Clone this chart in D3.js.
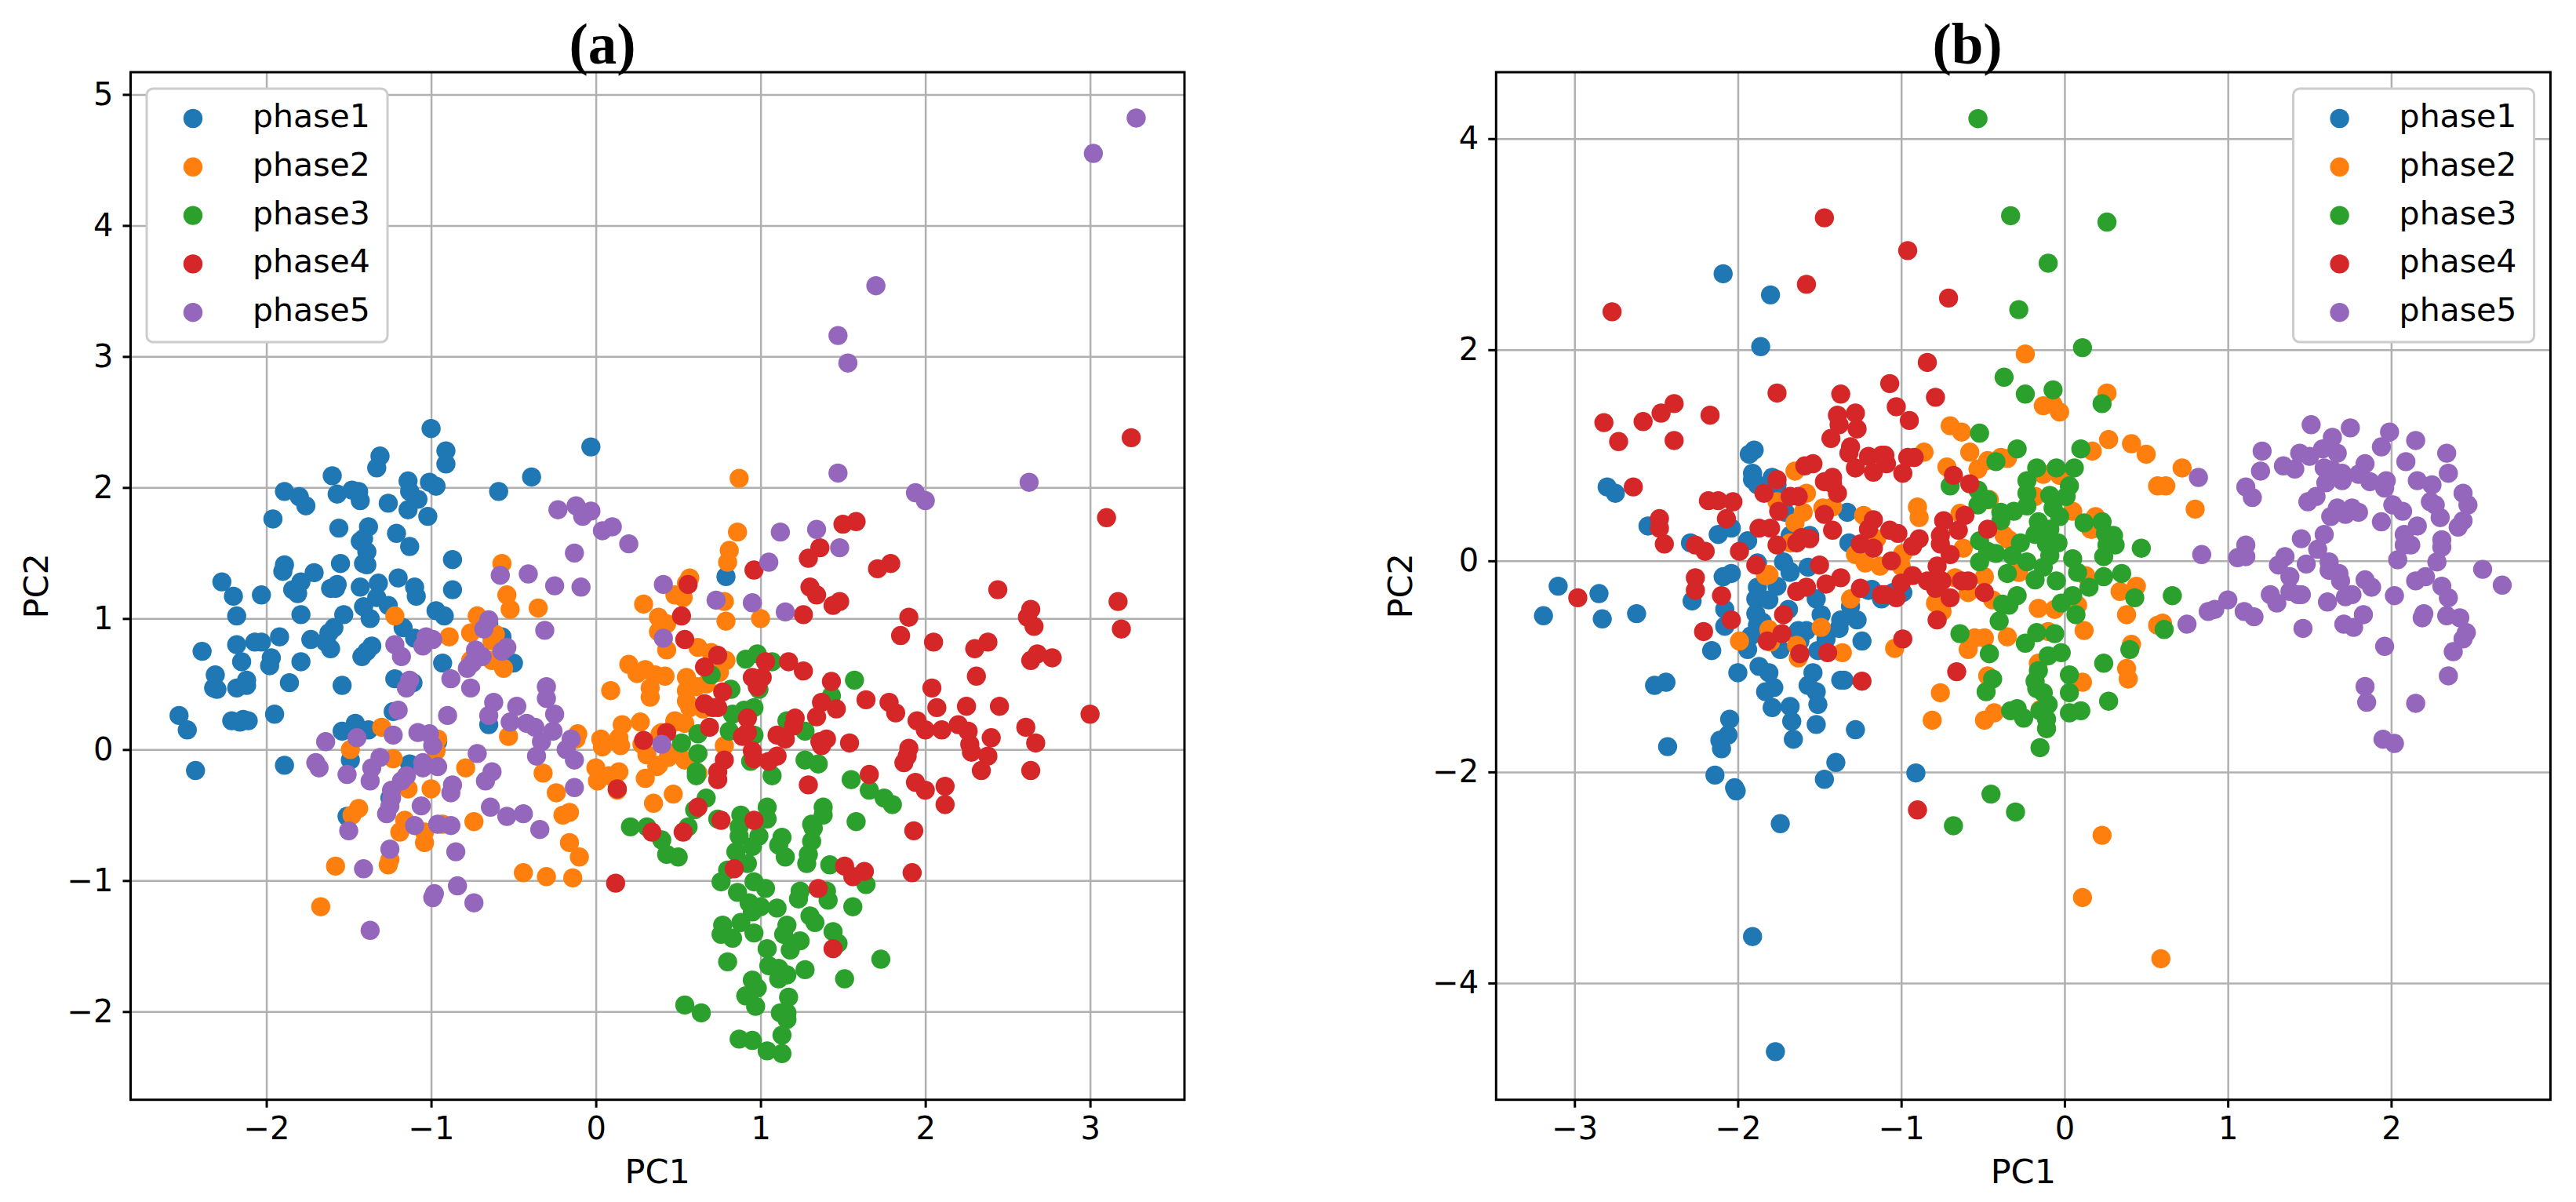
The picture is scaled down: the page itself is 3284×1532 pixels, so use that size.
<!DOCTYPE html>
<html>
<head>
<meta charset="utf-8">
<title>PCA phases</title>
<script src="https://cdnjs.cloudflare.com/ajax/libs/d3/7.8.5/d3.min.js"></script>
<style>
  html, body { margin: 0; padding: 0; background: #fff; }
  svg { display: block; }
  text { font-family: "DejaVu Sans", sans-serif; fill: #000; }
  .panel-title { font-family: "Liberation Serif", serif; font-weight: bold; }
</style>
</head>
<body>
<div id="chart"></div>
<script>
// Values, [PC1, PC2]
var phaseNames = ["phase1", "phase2", "phase3", "phase4", "phase5"];
var phaseColors = ["#1f77b4", "#ff7f0e", "#2ca02c", "#d62728", "#9467bd"];

var aTicksX = [-2, -1, 0, 1, 2, 3];
var aTicksY = [-2, -1, 0, 1, 2, 3, 4, 5];
var bTicksX = [-3, -2, -1, 0, 1, 2];
var bTicksY = [-4, -2, 0, 2, 4];

var aPhase1 = [[-1.0,2.45],[-0.91,2.28],[-0.91,2.18],[-1.31,2.24],[-1.33,2.15],[-1.6,2.09],[-1.89,1.97],[-1.8,1.93],[-1.76,1.86],[-1.96,1.76],[-1.57,1.95],[-1.48,1.98],[-1.44,1.97],[-1.43,1.9],[-1.14,2.05],[-1.13,1.97],[-1.08,1.91],[-1.14,1.83],[-1.01,2.04],[-0.97,2.01],[-1.02,1.78],[-1.26,1.88],[-0.59,1.97],[-0.39,2.08],[-0.03,2.31],[-1.56,1.69],[-1.38,1.7],[-1.21,1.65],
  [-1.41,1.61],[-1.43,1.59],[-1.39,1.51],[-1.41,1.42],[-1.39,1.41],[-1.13,1.55],[-0.87,1.45],[-0.87,1.22],[-1.55,1.42],[-1.71,1.35],[-1.89,1.41],[-1.9,1.36],[-1.79,1.28],[-1.84,1.22],[-1.81,1.19],[-2.27,1.28],[-2.2,1.17],[-2.03,1.18],[-2.18,1.02],[-1.79,1.03],[-1.61,1.23],[-1.58,1.23],[-1.57,1.26],[-1.43,1.24],[-1.32,1.27],[-1.33,1.16],[-1.2,1.31],[-1.1,1.24],[-1.09,1.17],[-1.26,1.1],[-1.41,1.09],[-1.53,1.03],[-1.37,1.0],[-0.97,1.06],[-0.92,1.02],[-1.17,0.93],[-1.1,0.85],[-1.59,0.93],[-1.62,0.89],[-1.73,0.84],[-1.64,0.82],[-1.61,0.77],[-1.92,0.86],[-2.07,0.82],[-2.03,0.82],[-2.18,0.8],[-2.39,0.75],[-2.15,0.67],[-1.97,0.7],[-1.98,0.64],[-1.79,0.67],[-1.36,0.79],[-1.39,0.75],[-1.42,0.71],[-0.93,0.66],[-0.65,0.96],[-0.57,0.86],[-0.5,0.66],[-1.22,0.54],[-1.11,0.51],[-1.86,0.51],[-1.54,0.49],[-2.31,0.57],[-2.32,0.47],[-2.3,0.46],[-2.18,0.47],[-2.12,0.53],[-2.12,0.49],[-2.53,0.26],[-2.48,0.15],[-2.21,0.22],[-2.16,0.21],[-2.14,0.23],[-2.11,0.22],[-1.95,0.27],[-1.23,0.29],[-0.65,0.19],[-1.54,0.14],[-1.46,0.2],[-1.38,0.15],[-0.96,0.06],[-2.43,-0.16],[-1.89,-0.12],[-1.49,-0.08],[-1.13,-0.11],[-1.25,-0.37],[-1.51,-0.51],[0.79,1.32]];

var aPhase2 = [[-0.57,1.42],[-0.54,1.18],[-0.52,1.07],[-0.35,1.08],[-1.22,1.02],[-0.72,1.02],[-0.89,0.86],[-0.76,0.89],[-0.61,0.88],[-0.63,0.83],[-0.76,0.68],[-0.63,0.68],[-0.56,0.62],[0.29,1.11],[0.38,1.01],[0.38,0.9],[0.48,1.18],[0.43,0.76],[0.2,0.65],[0.25,0.58],[0.3,0.61],[0.36,0.57],[0.42,0.56],[0.09,0.45],[0.33,0.47],[0.33,0.4],[0.16,0.19],[0.27,0.21],[0.48,0.21],[-0.11,0.12],[-0.12,0.08],[-0.53,0.1],[0.03,0.08],[0.04,0.02],[0.14,0.09],[0.15,0.03],[0.28,0.04],[0.31,-0.04],[0.39,0.12],[0.46,-0.03],[0.37,-0.13],[0.0,-0.14],[0.01,-0.24],[0.08,-0.2],[0.14,-0.17],[0.13,-0.31],[0.3,-0.22],[0.47,-0.34],[0.35,-0.41],[-1.3,0.17],[-0.96,0.08],[-0.97,-0.01],[-1.49,0.0],[-1.23,-0.07],[-0.79,-0.14],[-0.32,-0.18],[-0.24,-0.33],[-1.14,-0.3],[-1.0,-0.3],[-1.44,-0.45],[-1.48,-0.5],[-1.16,-0.54],[-0.93,-0.57],[-0.74,-0.55],[-0.2,-0.5],[-0.16,-0.48],[-1.19,-0.63],[-1.04,-0.63],[-1.04,-0.71],[-0.16,-0.71],[-0.1,-0.82],[-1.25,-0.84],[-1.26,-0.88],[-1.58,-0.89],[-0.44,-0.94],[-0.3,-0.97],[-0.14,-0.98],[-1.67,-1.2],
  [0.87,2.07],[0.86,1.66],[0.81,1.52],[0.8,1.43],[0.57,1.31],[0.55,1.27],[0.53,1.16],[0.78,1.13],[0.43,0.96],[0.79,0.98],[1.0,1.0],[0.62,0.78],[0.7,0.74],[0.79,0.68],[0.75,0.59],[0.67,0.5],[0.55,0.55],[0.55,0.45],[0.61,0.48],[0.55,0.37],[0.57,0.32],[0.65,0.31],[0.48,0.22],[0.54,0.2],[0.4,0.13],[0.78,0.03],[0.54,-0.08],[0.44,-0.06],[0.38,-0.12],[0.62,-0.18]];

var aPhase3 = [[1.57,0.53],[1.43,0.41],[0.98,0.73],[0.91,0.69],[1.07,0.67],[0.7,0.57],[0.82,0.46],[0.99,0.46],[0.83,0.27],[0.9,0.3],[0.96,0.32],[1.16,0.22],[1.27,0.14],[0.81,0.14],[0.96,0.11],[0.62,0.12],[0.52,0.05],[0.62,-0.03],[0.94,-0.09],[1.27,-0.08],[1.35,-0.11],[0.61,-0.17],[0.61,-0.2],[1.07,-0.2],[1.55,-0.23],[1.66,-0.31],[1.75,-0.37],[1.8,-0.42],[1.58,-0.55],[0.67,-0.37],[0.6,-0.46],[0.56,-0.59],[0.74,-0.53],[0.88,-0.5],[1.04,-0.44],[1.04,-0.53],[1.38,-0.44],[1.38,-0.5],[1.31,-0.57],[1.32,-0.6],[1.31,-0.7],[1.13,-0.67],[1.11,-0.73],[1.15,-0.82],[1.29,-0.8],[1.28,-0.87],[0.87,-0.59],[0.87,-0.66],[0.99,-0.66],[0.95,-0.74],[0.85,-0.78],[0.92,-0.87],[0.8,-0.92],[1.42,-0.88],[0.76,-1.01],[0.96,-1.01],[1.03,-1.06],[0.86,-1.09],[1.24,-1.08],[1.23,-1.14],[1.4,-1.08],[1.41,-1.15],[1.64,-1.03],[1.56,-1.2],[0.93,-1.17],[1.0,-1.2],[1.1,-1.21],[0.95,-1.24],[1.3,-1.27],[1.33,-1.32],[0.77,-1.34],[0.76,-1.41],[0.88,-1.32],[0.83,-1.44],[0.96,-1.4],[1.16,-1.34],[1.14,-1.41],[1.24,-1.46],[1.44,-1.39],[1.47,-1.48],[1.04,-1.52],[1.18,-1.53],[1.73,-1.6],[0.8,-1.62],[1.05,-1.65],[1.11,-1.67],[1.16,-1.72],[1.11,-1.75],[1.27,-1.68],[1.51,-1.75],[0.95,-1.76],[0.98,-1.82],[0.91,-1.88],[1.17,-1.89],[0.54,-1.95],[0.64,-2.01],[0.97,-1.96],[1.12,-2.01],[1.16,-2.01],[1.16,-2.06],[0.87,-2.21],[0.95,-2.22],[1.13,-2.18],[1.04,-2.3],[1.13,-2.32],[0.21,-0.59],[0.31,-0.59],[0.4,-0.69],[0.43,-0.8],[0.5,-0.82]];

var aPhase4 = [[3.25,2.38],[3.1,1.77],[1.58,1.74],[1.5,1.72],[1.36,1.54],[1.29,1.46],[0.96,1.37],[1.79,1.42],[1.71,1.38],[2.44,1.22],[3.17,1.13],[2.64,1.07],[0.56,1.26],[1.3,1.24],[1.34,1.18],[1.48,1.13],[1.44,1.1],
  [3.19,0.92],[2.62,1.01],[2.66,0.94],[1.9,1.01],[1.85,0.87],[2.05,0.82],[2.38,0.82],[2.3,0.77],[2.68,0.73],[2.64,0.68],[2.77,0.7],[2.31,0.56],[2.04,0.47],[3.0,0.27],[2.07,0.32],[2.25,0.33],[2.45,0.33],[2.61,0.17],[2.67,0.05],[2.4,0.09],[2.2,0.19],[2.26,0.14],[2.27,0.04],[2.28,-0.02],[2.38,-0.05],[2.34,-0.16],[2.64,-0.16],[1.95,0.22],[2.0,0.15],[2.1,0.15],[1.9,0.01],[1.89,-0.05],[1.87,-0.1],[1.78,0.36],[1.82,0.28],[1.64,0.38],[1.43,0.52],[1.37,0.36],[1.34,0.25],[1.46,0.31],[1.4,0.08],[1.36,0.06],[1.37,0.03],[1.54,0.05],[1.66,-0.19],[1.29,-0.27],[1.94,-0.25],[2.0,-0.31],[2.12,-0.28],[2.12,-0.42],[1.93,-0.62],[1.92,-0.94],[1.51,-0.89],[1.56,-0.97],[1.63,-0.93],[1.35,-1.06],[1.44,-1.52],[1.26,1.03],[1.17,0.67],[1.26,0.6],[1.03,0.67],[0.95,0.55],[1.01,0.55],[0.98,0.48],[1.21,0.24],[1.2,0.18],[1.1,0.11],[1.15,0.08],[0.92,0.24],[0.92,0.13],[0.89,0.1],[0.95,-0.01],[0.96,-0.07],[1.05,-0.09],[1.1,-0.05],[0.78,-0.08],[0.74,-0.17],[0.74,-0.23],[0.69,0.17],[0.74,0.72],[0.66,0.63],[0.77,0.44],[0.66,0.35],[0.71,0.32],[0.74,0.32],[0.52,1.02],[0.54,0.84],[0.43,0.13],[0.29,0.07],[0.62,-0.44],[0.76,-0.54],[0.96,-0.54],[0.53,-0.63],[0.34,-0.63],[0.84,-0.91],[0.13,-0.3],[0.12,-1.02]];

var aPhase5 = [[-0.23,1.83],[-0.12,1.86],[-0.08,1.78],[-0.03,1.82],[0.04,1.67],[0.1,1.7],[0.2,1.57],[-0.13,1.5],[-0.58,1.33],[-0.41,1.34],[-0.25,1.25],[-0.09,1.24],[0.41,1.26],[0.41,0.85],[-0.31,0.91],[-0.65,0.99],[-0.68,0.92],[-1.03,0.86],[-0.99,0.84],[-1.05,0.79],[-1.22,0.8],[-1.18,0.71],[-0.73,0.76],[-0.69,0.71],[-0.54,0.78],[-0.57,0.75],[-0.75,0.66],[-0.78,0.62],[-0.88,0.54],[-0.76,0.47],[-1.13,0.53],[-1.15,0.47],[-0.3,0.48],[-0.3,0.39],[-0.62,0.36],[-0.48,0.33],[-0.65,0.26],[-0.25,0.27],[-0.52,0.21],[-0.42,0.2],[-0.37,0.17],[-0.26,0.14],[-0.33,0.06],[-0.15,0.08],[-0.18,0.0],[-0.36,-0.05],[-0.13,-0.08],[-1.2,0.3],[-0.9,0.26],[-1.45,0.09],[-1.64,0.06],[-1.23,0.11],[-1.08,0.13],[-1.01,0.12],[-0.99,0.03],[-0.72,-0.03],[0.4,0.04],[-1.7,-0.1],[-1.68,-0.14],[-1.31,-0.06],[-1.36,-0.14],[-1.51,-0.19],[-1.37,-0.24],[-1.05,-0.1],[-1.05,-0.14],[-0.96,-0.13],[-1.15,-0.2],[-1.18,-0.24],[-0.63,-0.17],[-0.67,-0.24],[-0.87,-0.27],[-0.88,-0.33],[-0.13,-0.29],[-1.24,-0.31],[-1.24,-0.37],[-1.25,-0.43],[-1.27,-0.49],[-1.06,-0.43],[-0.64,-0.44],[-0.54,-0.51],[-0.44,-0.49],[-0.96,-0.57],[-0.88,-0.58],[-1.1,-0.58],[-1.5,-0.62],[-0.34,-0.61],[-0.85,-0.78],[-1.25,-0.76],[-1.41,-0.91],[-0.84,-1.04],[-0.98,-1.1],[-0.99,-1.13],[-0.74,-1.17],[-1.37,-1.38],
  [3.28,4.82],[3.02,4.55],[1.7,3.54],[1.47,3.16],[1.53,2.95],[1.47,2.11],[1.94,1.96],[2.0,1.9],[2.63,2.04],[1.34,1.68],[1.12,1.66],[1.48,1.54],[1.05,1.43],[0.73,1.14],[0.95,1.12],[1.15,1.05]];

var bPhase1 = [[-2.09,2.72],[-1.8,2.52],[-1.86,2.03],[-1.9,1.05],[-1.93,1.01],[-1.91,0.83],[-1.91,0.77],[-1.88,0.72],[-1.79,0.79],[-1.76,0.72],[-2.8,0.7],[-2.75,0.64],[-2.55,0.33],[-2.29,0.17],[-2.12,0.25],[-2.04,0.31],[-1.94,0.19],[-1.88,-0.02],[-1.72,-0.01],[-1.33,0.46],[-1.32,0.17],[-1.71,0.46],[-1.68,0.24],[-1.56,0.24],[-1.57,-0.06],[-2.09,-0.15],[-2.04,-0.12],[-3.1,-0.24],[-2.85,-0.31],[-3.19,-0.52],[-2.83,-0.55],[-2.62,-0.5],[-1.68,-0.1],
  [-2.28,-0.38],[-2.08,-0.46],[-2.08,-0.62],[-1.88,-0.25],[-1.89,-0.36],[-1.89,-0.5],[-1.88,-0.61],[-1.92,-0.71],[-1.81,-0.37],[-1.76,-0.24],[-1.68,-0.11],[-1.69,-0.46],[-1.85,-0.58],[-2.16,-0.85],[-1.94,-0.84],[-2.0,-1.06],[-1.74,-0.84],[-1.63,-0.66],[-1.58,-0.66],[-1.62,-0.76],[-1.52,-0.36],[-1.49,-0.51],[-1.51,-0.85],[-1.46,-0.74],[-1.38,-0.64],[-1.37,-0.56],[-1.27,-0.56],[-1.31,-0.43],[-1.24,-0.76],[-1.2,-0.28],[-1.18,-0.27],[-1.12,-0.36],[-1.87,-1.0],[-1.81,-1.06],[-1.78,-1.2],[-1.83,-1.24],[-1.79,-1.39],[-1.68,-1.38],[-1.67,-1.52],[-1.66,-1.69],[-1.52,-1.55],[-1.54,-1.06],[-1.57,-1.18],[-1.52,-1.24],[-1.51,-1.36],[-1.37,-1.13],[-1.35,-1.13],[-1.28,-1.6],[-1.4,-1.91],[-1.47,-2.07],[-2.51,-1.18],[-2.44,-1.15],[-2.05,-1.5],[-2.06,-1.65],[-2.11,-1.7],[-2.1,-1.78],[-2.43,-1.76],[-2.14,-2.03],[-2.02,-2.15],[-2.01,-2.18],[-1.74,-2.49],[-1.91,-3.56],[-0.91,-2.01],[-1.77,-4.65],[-0.99,-0.3],[-1.05,-0.3]];

var bPhase2 = [[-0.24,1.96],[-0.13,1.47],[-0.07,1.48],[-0.03,1.41],[0.26,1.59],[-0.7,1.28],[-0.63,1.22],[-0.86,1.03],[-0.58,1.03],[-0.72,0.89],[-0.53,0.87],[-0.47,0.95],[-0.39,0.98],[-0.35,0.97],[0.17,1.04],[0.27,1.15],[0.41,1.11],[0.5,1.01],[-0.13,0.82],[-0.03,0.81],[-0.18,0.61],[-0.46,0.58],[-0.9,0.51],[-0.89,0.41],[-0.64,0.45],[0.05,0.47],[0.19,0.42],[0.17,0.3],[-0.37,0.24],[-0.34,0.2],[-0.62,0.12],[0.57,0.71],[-1.28,0.06],[-1.22,-0.02],[-1.13,-0.05],[-0.99,0.07],[-1.0,-0.05],[-1.15,0.21],[-1.23,0.43],[-1.65,0.85],[-1.58,0.64],[-1.76,0.56],[-1.6,0.46],[-1.65,0.36],[-1.48,0.5],[-1.42,0.51],[-1.68,0.17],[-1.81,-0.13],[-1.31,-0.36],[-0.67,-0.16],[-0.49,-0.15],[-0.59,-0.3],[-0.44,-0.37],[-0.28,-0.11],[0.13,-0.14],[0.34,-0.29],[0.44,-0.24],[0.38,-0.51],[0.57,-0.61],[-0.79,-0.4],[-0.75,-0.48],
  [-0.16,-0.45],[-0.06,-0.46],[0.08,-0.42],[0.12,-0.66],[-0.35,-0.72],[-0.55,-0.73],[-0.49,-0.73],[-0.59,-0.84],[-0.1,-0.67],[0.41,-0.79],[0.38,-1.02],[0.39,-1.12],[0.11,-1.15],[-0.16,-0.97],[-0.47,-1.09],[-0.76,-1.25],[-0.81,-1.51],[-0.49,-1.51],[-0.43,-1.44],[-0.15,-1.41],[-1.04,-0.83],[0.23,-2.6],[0.11,-3.19],[0.59,-3.77],[-1.83,-0.14],[-1.99,-0.76],[-1.81,-0.65],[-1.8,-0.77],[-1.64,-0.8],[-1.63,-0.92],[-1.49,-0.63],[-1.36,-0.87],[0.72,0.88],[0.62,0.71],[0.8,0.49],[0.6,-0.59],[0.16,0.3]];

var bPhase3 = [[-0.53,4.19],[-0.33,3.27],[0.26,3.21],[-0.1,2.82],[-0.28,2.38],[0.11,2.02],[-0.37,1.74],[-0.24,1.58],[-0.07,1.62],[0.23,1.49],[-0.52,1.21],[-0.29,1.06],[-0.42,0.94],[0.1,1.06],[-0.17,0.88],[-0.05,0.88],[0.06,0.88],[-0.23,0.76],[0.03,0.71],[-0.7,0.71],[-0.23,0.64],[-0.09,0.62],[0.01,0.61],[-0.53,0.67],[-0.47,0.58],[-0.53,0.53],[-0.39,0.46],[-0.31,0.47],[-0.23,0.52],[-0.39,0.38],[-0.07,0.5],[-0.03,0.42],[0.12,0.36],[0.23,0.37],[-0.16,0.37],[-0.18,0.25],[-0.09,0.3],[-0.27,0.17],[-0.04,0.17],[-0.11,0.16],[-0.52,0.19],[-0.47,0.09],[-0.42,0.07],[-0.32,0.05],[0.25,0.26],[0.3,0.24],[0.31,0.15],[0.26,0.15],[0.24,0.04],[0.47,0.12],[-0.52,-0.01],[-0.23,-0.01],[0.05,0.02],[-0.09,0.05],[-0.35,-0.12],[-0.18,-0.18],[-0.05,-0.19],[0.08,-0.11],[-0.13,-0.06],[0.24,-0.15],[0.35,-0.12],[0.15,-0.25],[0.43,-0.35],[0.05,-0.33],[-0.02,-0.4],[-0.29,-0.33],[-0.34,-0.42],[-0.38,-0.41],[-0.4,-0.57],[0.07,-0.51],
  [-0.64,-0.69],[-0.46,-0.88],[-0.44,-1.12],[-0.48,-1.24],[-0.17,-0.68],[-0.24,-0.78],[-0.06,-0.69],[-0.02,-0.87],[-0.1,-0.9],[0.24,-0.97],[0.4,-0.84],[-0.16,-1.04],[-0.18,-1.14],[-0.17,-1.21],[-0.13,-1.25],[-0.1,-1.36],[-0.15,-1.42],[-0.11,-1.5],[-0.11,-1.59],[-0.15,-1.77],[0.03,-1.08],[0.03,-1.25],[0.03,-1.44],[0.1,-1.42],[0.27,-1.33],[-0.33,-1.42],[-0.29,-1.4],[-0.25,-1.49],[-0.45,-2.21],[-0.3,-2.38],[-0.68,-2.51],[0.66,-0.33],[0.61,-0.65]];

var bPhase4 = [[-2.77,2.36],[-1.58,2.62],[-1.47,3.25],[-1.76,1.59],[-1.37,1.58],[-2.82,1.31],[-2.73,1.13],[-2.58,1.32],[-2.47,1.4],[-2.39,1.49],[-2.39,1.14],[-2.17,1.38],[-1.39,1.38],[-1.28,1.4],[-1.38,1.29],[-1.27,1.25],[-1.43,1.16],[-1.31,1.08],[-1.32,1.02],[-1.28,0.88],[-1.2,0.99],[-1.12,1.0],[-1.17,0.84],[-1.54,0.92],[-1.59,0.9],[-1.76,0.77],[-1.84,0.64],[-1.68,0.61],[-1.63,0.61],[-1.47,0.75],[-1.42,0.79],[-1.42,0.73],[-1.39,0.64],[-1.75,0.47],[-1.47,0.44],[-1.42,0.29],[-1.87,0.31],[-1.8,0.31],[-1.76,0.15],[-1.64,0.17],[-1.61,0.22],[-1.56,0.21],[-2.18,0.57],[-2.12,0.57],[-2.03,0.56],[-2.07,0.4],[-2.64,0.7],[-2.48,0.4],[-2.48,0.31],[-2.45,0.16],[-2.26,0.15],[-2.2,0.09],[-1.99,0.09],[-1.89,-0.04],[-1.5,-0.04],[-1.46,-0.22],[-1.37,-0.16],[-1.64,-0.29],[-1.58,-0.25],[-1.25,-0.26],[-1.17,0.39],[-1.2,0.3],[-1.25,0.16],[-1.17,0.12],[-2.26,-0.16],[-2.26,-0.28],[-2.1,-0.33],[-2.98,-0.35],[-1.72,-0.51],[-1.12,-0.32],[-2.04,-0.56],[-2.21,-0.67],[-1.82,-0.76],[-1.73,-0.69],[-1.62,-0.88],[-1.45,-0.87],[-1.24,-1.14],
  [-0.96,2.94],[-0.71,2.49],[-0.84,1.88],[-1.07,1.68],[-1.03,1.46],[-0.79,1.55],[-0.95,1.33],[-0.96,0.98],[-0.92,0.98],[-0.99,0.83],[-1.1,1.0],[-1.09,0.92],[-0.68,0.81],[-0.58,0.73],[-0.61,0.43],[-0.74,0.38],[-0.65,0.29],[-0.76,0.24],[-0.76,0.16],[-0.7,0.06],[-0.47,0.3],[-1.07,0.29],[-1.02,0.26],[-0.89,0.21],[-0.93,0.14],[-1.06,0.0],[-0.78,-0.05],[-0.93,-0.14],[-1.0,-0.21],[-0.84,-0.19],[-0.79,-0.26],[-0.75,-0.19],[-0.63,-0.19],[-0.59,-0.19],[-0.7,-0.35],[-0.49,-0.3],[-0.78,-0.56],[-1.1,-0.32],[-1.03,-0.35],[-0.99,-0.74],[-0.66,-1.05],[-0.9,-2.36]];

var bPhase5 = [[0.82,0.79],[0.84,0.06],[0.75,-0.6],[0.88,-0.48],[0.92,-0.46],[1.0,-0.37],[1.06,0.03],[1.11,0.04],[1.11,0.15],[1.1,-0.48],[1.16,-0.53],[1.11,0.7],[1.15,0.6],[1.2,0.85],[1.21,1.04],[1.34,0.9],[1.41,0.87],[1.44,1.02],[1.5,0.99],[1.51,1.29],[1.58,1.06],[1.64,1.17],[1.67,1.02],[1.75,1.26],[1.84,0.92],[1.59,0.88],[1.64,0.86],[1.7,0.83],[1.8,0.82],[1.6,0.74],[1.7,0.76],[1.87,0.75],[1.96,0.69],[1.97,0.76],[1.94,1.08],[1.99,1.22],[2.15,1.14],[2.34,1.02],[2.09,0.94],[2.35,0.83],[2.16,0.76],[2.25,0.72],[2.44,0.64],[2.47,0.53],[2.24,0.56],[2.27,0.53],[2.3,0.41],[2.44,0.38],[2.41,0.32],[1.54,0.61],[1.49,0.56],[1.67,0.5],[1.63,0.42],[1.76,0.5],[1.72,0.44],[1.8,0.46],[2.01,0.53],[2.07,0.47],[1.94,0.37],[2.16,0.33],[2.08,0.25],[2.31,0.2],[2.31,0.13],[2.12,0.15],[2.08,0.15],[1.59,0.25],[1.45,0.21],[1.55,0.11],[1.35,0.04],[1.31,-0.04],[1.48,-0.03],[1.62,-0.01],[2.04,0.01],[2.28,-0.01],[2.56,-0.08],[2.68,-0.23],[1.62,-0.09],[1.38,-0.15],[1.68,-0.12],[1.69,-0.19],[1.84,-0.18],[1.88,-0.25],[2.15,-0.19],[2.21,-0.15],[2.31,-0.24],[2.35,-0.35],[1.26,-0.32],[1.3,-0.4],[1.38,-0.29],[1.43,-0.32],[1.45,-0.32],[1.61,-0.39],[1.72,-0.34],[1.76,-0.32],[2.02,-0.33],[1.83,-0.51],[1.71,-0.6],[1.77,-0.63],[1.46,-0.64],[2.2,-0.5],[2.19,-0.54],[2.34,-0.52],[2.42,-0.54],[2.46,-0.68],[2.44,-0.74],[2.38,-0.86],[1.96,-0.81],[2.35,-1.09],[1.84,-1.19],[1.85,-1.34],[2.15,-1.35],[1.95,-1.69],[2.02,-1.73]];

var fullWidth = 3284;
var fullHeight = 1532;
var pointRadius = 12.2;
var legendRowGap = 61.8;

var svg = d3.select("#chart")
    .append("svg")
    .attr("width", fullWidth)
    .attr("height", fullHeight);

function DrawPanel(panel) {
    var xScale = d3.scaleLinear().domain(panel.xDomain).range([panel.left, panel.right]);
    var yScale = d3.scaleLinear().domain(panel.yDomain).range([panel.bottom, panel.top]);
    var g = svg.append("g");

    // Axes, the long inner ticks are the grid
    var xGrid = d3.axisBottom(xScale).tickValues(panel.ticksX)
        .tickSize(panel.top - panel.bottom).tickFormat("");
    g.append("g").attr("transform", "translate(0," + panel.bottom + ")").call(xGrid)
        .call(function(s) { s.select(".domain").remove(); })
        .selectAll("line").attr("stroke", "#b0b0b0").attr("stroke-width", 2.5);

    var yGrid = d3.axisLeft(yScale).tickValues(panel.ticksY)
        .tickSize(panel.left - panel.right).tickFormat("");
    g.append("g").attr("transform", "translate(" + panel.left + ",0)").call(yGrid)
        .call(function(s) { s.select(".domain").remove(); })
        .selectAll("line").attr("stroke", "#b0b0b0").attr("stroke-width", 2.5);

    // One group of dots per phase, later phases sit on top
    panel.series.forEach(function(points, i) {
        g.append("g").selectAll("circle")
            .data(points)
            .enter()
            .append("circle")
                .attr("cx", function(d) { return xScale(d[0]); })
                .attr("cy", function(d) { return yScale(d[1]); })
                .attr("r", pointRadius)
                .attr("fill", phaseColors[i]);
    });

    var xAxis = d3.axisBottom(xScale).tickValues(panel.ticksX).tickFormat(d3.format("d")).tickSize(10).tickPadding(12);
    var gx = g.append("g").attr("transform", "translate(0," + panel.bottom + ")").call(xAxis);
    var yAxis = d3.axisLeft(yScale).tickValues(panel.ticksY).tickFormat(d3.format("d")).tickSize(10).tickPadding(12);
    var gy = g.append("g").attr("transform", "translate(" + panel.left + ",0)").call(yAxis);

    [gx, gy].forEach(function(a) {
        a.select(".domain").remove();
        a.selectAll("line").attr("stroke", "#000").attr("stroke-width", 3);
        a.selectAll("text")
            .style("font-family", "'DejaVu Sans', sans-serif")
            .style("font-size", "40px")
            .attr("fill", "#000");
    });

    g.append("rect")
        .attr("x", panel.left)
        .attr("y", panel.top)
        .attr("width", panel.right - panel.left)
        .attr("height", panel.bottom - panel.top)
        .attr("fill", "none")
        .attr("stroke", "#000")
        .attr("stroke-width", 3);

    g.append("text")
        .attr("x", (panel.left + panel.right) / 2)
        .attr("y", 1508)
        .attr("text-anchor", "middle")
        .style("font-size", "43px")
        .text("PC1");

    g.append("text")
        .attr("transform", "translate(" + panel.yLabelX + "," + ((panel.top + panel.bottom) / 2) + ") rotate(-90)")
        .attr("text-anchor", "middle")
        .style("font-size", "43px")
        .text("PC2");

    g.append("text")
        .classed("panel-title", true)
        .attr("x", panel.titleX)
        .attr("y", 81)
        .attr("text-anchor", "middle")
        .style("font-size", "73px")
        .text(panel.title);

    // Legend
    var legend = g.append("g").attr("transform", "translate(" + panel.legendX + ",113)");
    legend.append("rect")
        .attr("width", 307)
        .attr("height", 323)
        .attr("rx", 8)
        .attr("fill", "#fff")
        .attr("stroke", "#cccccc")
        .attr("stroke-width", 3);

    var row = legend.selectAll(".legend-row")
        .data(phaseNames)
        .enter()
        .append("g")
            .classed("legend-row", true)
            .attr("transform", function(d, i) { return "translate(0," + (38 + i * legendRowGap) + ")"; });
    row.append("circle")
        .attr("cx", 59)
        .attr("r", 12.2)
        .attr("fill", function(d, i) { return phaseColors[i]; });
    row.append("text")
        .attr("x", 135)
        .attr("y", 11)
        .style("font-size", "41px")
        .text(function(d) { return d; });
}

DrawPanel({
    title: "(a)",
    titleX: 768,
    left: 166.5, right: 1510, top: 92, bottom: 1401.7,
    xDomain: [-2.824, 3.573],
    yDomain: [-2.673, 5.17],
    ticksX: aTicksX,
    ticksY: aTicksY,
    yLabelX: 61,
    legendX: 187,
    series: [aPhase1, aPhase2, aPhase3, aPhase4, aPhase5]
});

DrawPanel({
    title: "(b)",
    titleX: 2508,
    left: 1907.3, right: 3251.4, top: 92, bottom: 1401.7,
    xDomain: [-3.48, 2.975],
    yDomain: [-5.106, 4.63],
    ticksX: bTicksX,
    ticksY: bTicksY,
    yLabelX: 1800,
    legendX: 2923.6,
    series: [bPhase1, bPhase2, bPhase3, bPhase4, bPhase5]
});
</script>
</body>
</html>
